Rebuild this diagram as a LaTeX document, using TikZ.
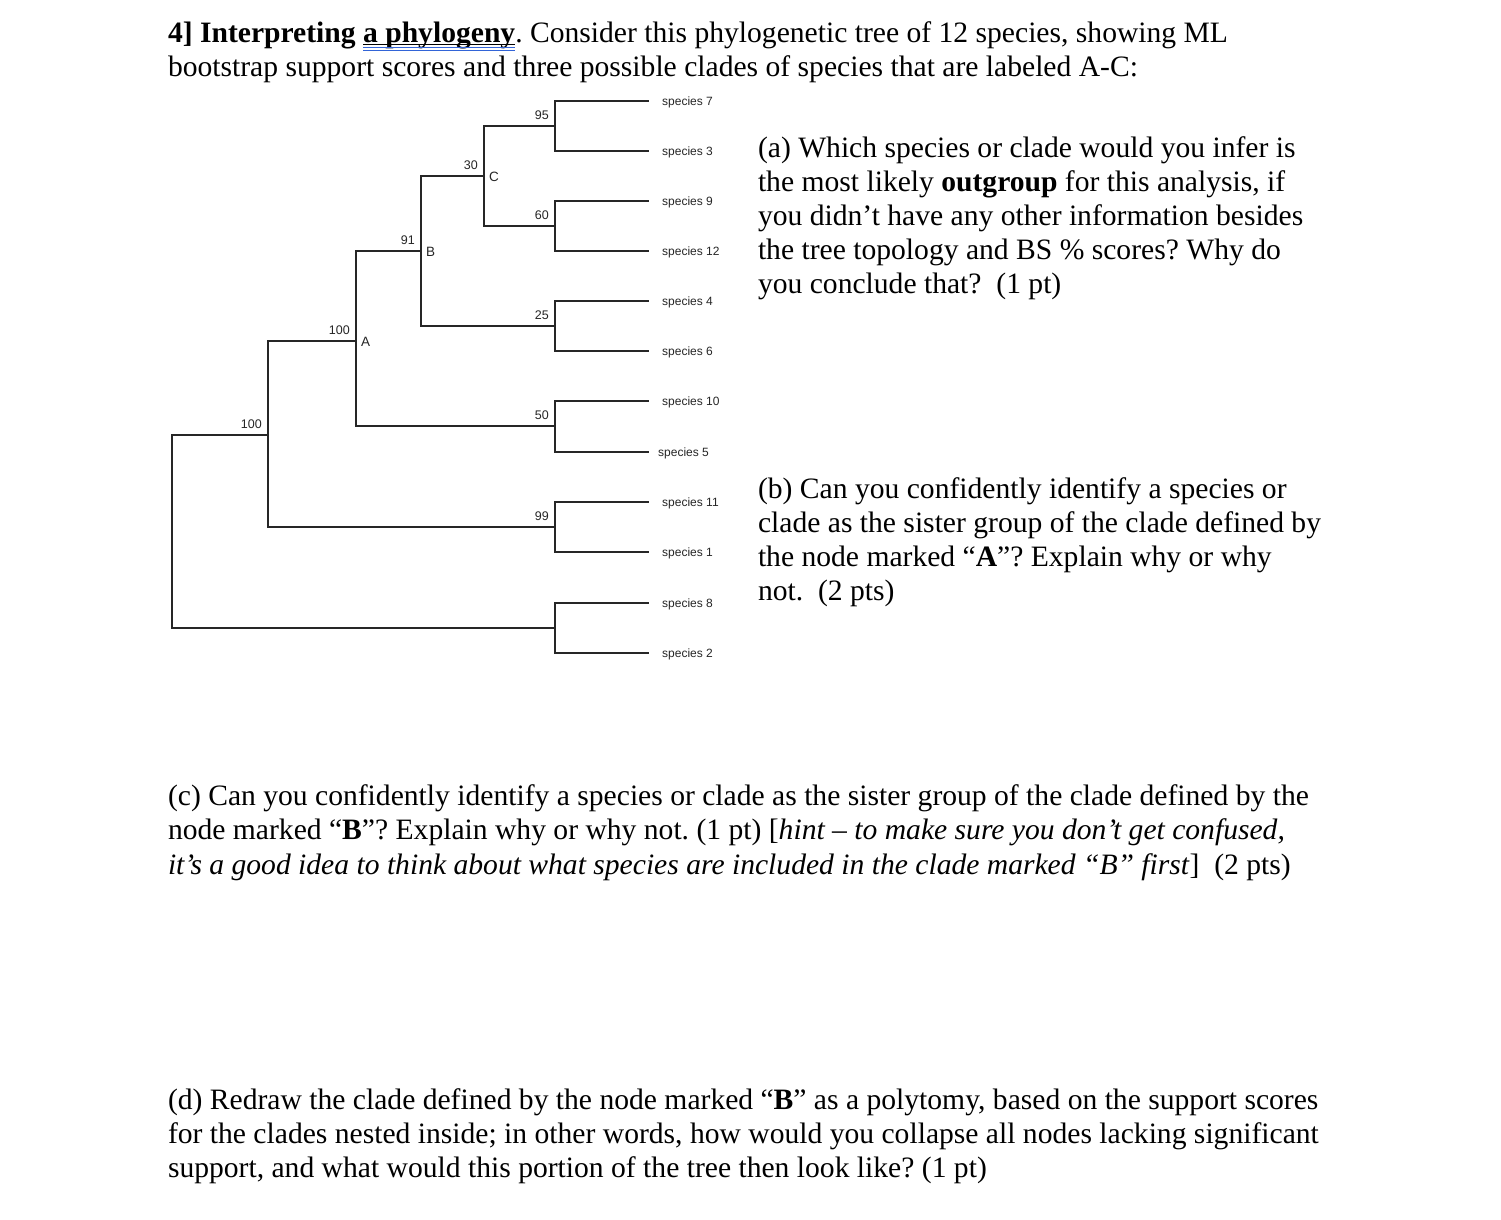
\documentclass[tikz,border=0pt]{standalone}
\usepackage{fontspec}
\setmainfont{Liberation Serif}
\newfontfamily\arialf{Liberation Sans}
\newcommand\txtf{\fontsize{29.6}{34}\selectfont}
\newcommand\spf{\arialf\fontsize{12}{14}\selectfont}
\newcommand\numf{\arialf\fontsize{12.5}{14}\selectfont}
\newcommand\letf{\arialf\fontsize{13.5}{15}\selectfont}
\definecolor{spellblue}{RGB}{50,100,215}
\frenchspacing
\begin{document}
\begin{tikzpicture}[x=1pt,y=-1pt,
  br/.style={line width=1.1pt, black!85, line cap=rect},
  txt/.style={anchor=base west, inner sep=0, outer sep=0, font=\txtf},
  sp/.style={anchor=base west, inner sep=0, font=\spf, text=black!85},
  bs/.style={anchor=base east, inner sep=0, font=\numf, text=black!85, xshift=-6pt, yshift=7pt},
  cl/.style={anchor=base west, inner sep=0, font=\letf, text=black!85, xshift=5pt, yshift=-5pt}]
\useasboundingbox (0,0) rectangle (1501,1219);
\fill[white] (0,0) rectangle (1501,1219);

% ---- title
\node[txt] (ttl1) at (168,42) {\textbf{4] Interpreting}};
\node[txt, xshift=7.4pt] (ttlu) at (ttl1.base east) {\textbf{a phylogeny}};
\node[txt] (ttl3) at (ttlu.base east) {. Consider this phylogenetic tree of 12 species, showing ML};
\node[txt] (ttl4) at (168,76) {bootstrap support scores and three possible clades of species that are labeled A-C:};
\draw[black, line width=1.3pt] ([yshift=-2.5pt]ttlu.base west) -- ([yshift=-2.5pt]ttlu.base east);
\draw[spellblue, line width=0.9pt] ([yshift=-5.5pt]ttlu.base west) -- ([yshift=-5.5pt]ttlu.base east);
\draw[spellblue, line width=0.9pt] ([yshift=-8.5pt]ttlu.base west) -- ([yshift=-8.5pt]ttlu.base east);

% ---- tree coordinates
\coordinate (t7) at (648,101);
\coordinate (t3) at (648,151);
\coordinate (t9) at (648,201);
\coordinate (t12) at (648,251);
\coordinate (t4) at (648,301);
\coordinate (t6) at (648,351);
\coordinate (t10) at (648,401);
\coordinate (t5) at (648,452);
\coordinate (t11) at (648,502);
\coordinate (t1) at (648,552);
\coordinate (t8) at (648,603);
\coordinate (t2) at (648,653);
\coordinate (n95) at (555,126);
\coordinate (n60) at (555,226);
\coordinate (n25) at (555,326);
\coordinate (n50) at (555,426);
\coordinate (n99) at (555,527);
\coordinate (n82) at (555,628);
\coordinate (nC) at (484,176);
\coordinate (nB) at (421,251);
\coordinate (nA) at (356,341);
\coordinate (nR) at (268,435);
\coordinate (root) at (172,531);

% ---- branches
\draw[br] (n95) |- (t7);  \draw[br] (n95) |- (t3);
\draw[br] (n60) |- (t9);  \draw[br] (n60) |- (t12);
\draw[br] (n25) |- (t4);  \draw[br] (n25) |- (t6);
\draw[br] (n50) |- (t10); \draw[br] (n50) |- (t5);
\draw[br] (n99) |- (t11); \draw[br] (n99) |- (t1);
\draw[br] (n82) |- (t8);  \draw[br] (n82) |- (t2);
\draw[br] (nC) |- (n95);  \draw[br] (nC) |- (n60);
\draw[br] (nB) |- (nC);   \draw[br] (nB) |- (n25);
\draw[br] (nA) |- (nB);   \draw[br] (nA) |- (n50);
\draw[br] (nR) |- (nA);   \draw[br] (nR) |- (n99);
\draw[br] (root) |- (nR); \draw[br] (root) |- (n82);

% ---- species labels
\node[sp] (s7) at ([xshift=14pt,yshift=-4.5pt]t7) {species 7};
\node[sp] (s3) at ([xshift=14pt,yshift=-4.5pt]t3) {species 3};
\node[sp] (s9) at ([xshift=14pt,yshift=-4.5pt]t9) {species 9};
\node[sp] (s12) at ([xshift=14pt,yshift=-4.5pt]t12) {species 12};
\node[sp] (s4) at ([xshift=14pt,yshift=-4.5pt]t4) {species 4};
\node[sp] (s6) at ([xshift=14pt,yshift=-4.5pt]t6) {species 6};
\node[sp] (s10) at ([xshift=14pt,yshift=-4.5pt]t10) {species 10};
\node[sp] (s5) at ([xshift=10pt,yshift=-4.5pt]t5) {species 5};
\node[sp] (s11) at ([xshift=14pt,yshift=-4.5pt]t11) {species 11};
\node[sp] (s1) at ([xshift=14pt,yshift=-4.5pt]t1) {species 1};
\node[sp] (s8) at ([xshift=14pt,yshift=-4.5pt]t8) {species 8};
\node[sp] (s2) at ([xshift=14pt,yshift=-4.5pt]t2) {species 2};

% ---- support values
\node[bs] (b95) at (n95) {95};
\node[bs] (b60) at (n60) {60};
\node[bs] (b25) at (n25) {25};
\node[bs] (b50) at (n50) {50};
\node[bs] (b99) at (n99) {99};
\node[bs] (b30) at (nC) {30};
\node[bs] (b91) at (nB) {91};
\node[bs] (b100a) at (nA) {100};
\node[bs] (b100r) at (nR) {100};
\node[cl] (lC) at (nC) {C};
\node[cl] (lB) at (nB) {B};
\node[cl] (lA) at (nA) {A};

% ---- question (a)
\node[txt] (qa1) at (758,157) {(a) Which species or clade would you infer is};
\node[txt] (qa2) at (758,191) {the most likely \textbf{outgroup} for this analysis, if};
\node[txt] (qa3) at (758,225) {you didn’t have any other information besides};
\node[txt] (qa4) at (758,259) {the tree topology and BS \% scores? Why do};
\node[txt] (qa5) at (758,293) {you conclude that?~ (1 pt)};

% ---- question (b)
\node[txt] (qb1) at (758,498) {(b) Can you confidently identify a species or};
\node[txt] (qb2) at (758,532) {clade as the sister group of the clade defined by};
\node[txt] (qb3) at (758,566) {the node marked “\textbf{A}”? Explain why or why};
\node[txt] (qb4) at (758,600) {not.~ (2 pts)};

% ---- question (c)
\node[txt] (qc1) at (168,805) {(c) Can you confidently identify a species or clade as the sister group of the clade defined by the};
\node[txt] (qc2) at (168,839) {node marked “\textbf{B}”? Explain why or why not. (1 pt) [\textit{hint – to make sure you don’t get confused,}};
\node[txt] (qc3) at (168,874) {\textit{it’s a good idea to think about what species are included in the clade marked “B” first}]~ (2 pts)};

% ---- question (d)
\node[txt] (qd1) at (168,1109) {(d) Redraw the clade defined by the node marked “\textbf{B}” as a polytomy, based on the support scores};
\node[txt] (qd2) at (168,1143) {for the clades nested inside; in other words, how would you collapse all nodes lacking significant};
\node[txt] (qd3) at (168,1177) {support, and what would this portion of the tree then look like? (1 pt)};
\end{tikzpicture}
\end{document}
